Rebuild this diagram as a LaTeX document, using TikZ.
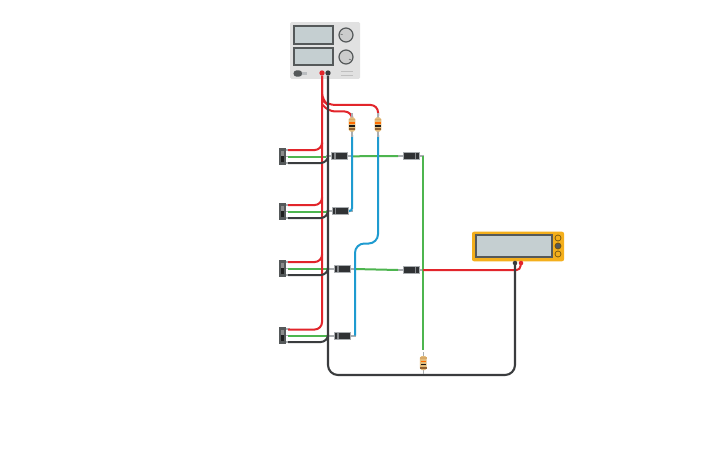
\documentclass[tikz,border=0pt]{standalone}
\definecolor{wred}{HTML}{E2252B}
\definecolor{wgreen}{HTML}{4DB54F}
\definecolor{wblue}{HTML}{1E9BD0}
\definecolor{wblack}{HTML}{3A3C3E}
\definecolor{lead}{HTML}{A9ADB0}
\definecolor{psu}{HTML}{E1E1E1}
\definecolor{lcd}{HTML}{C5CFD1}
\definecolor{lcdedge}{HTML}{55595A}
\definecolor{orangeb}{HTML}{F4AF1C}
\definecolor{tan}{HTML}{E3BC7A}
\definecolor{diode}{HTML}{303234}
\tikzset{
  wire/.style={line width=1.5pt,rounded corners=5.5pt},
  red wire/.style={wire,wred},
  green wire/.style={wire,wgreen},
  blue wire/.style={wire,wblue},
  black wire/.style={wire,wblack},
  leadw/.style={lead,line width=1pt},
  dbody/.style={draw=lead,line width=.6pt,fill=diode,minimum width=12pt,minimum height=5.4pt,inner sep=0pt,outer sep=0pt},
  swbody/.style={fill=lcdedge,minimum width=5pt,minimum height=13pt,inner sep=0pt},
  rbody/.style={fill=tan,rounded corners=1.2pt,minimum width=5pt,minimum height=10.5pt,inner sep=0pt},
  lcdscreen/.style={draw=lcdedge,line width=1.3pt,fill=lcd,inner sep=0pt},
  knob/.style={circle,draw=lcdedge,line width=.9pt,fill=black!20,inner sep=0pt,minimum size=10.5pt},
  mbtn/.style={circle,draw=black!55!orangeb,line width=.5pt,fill=orangeb,inner sep=0pt,minimum size=4.5pt},
  terminal/.style={circle,inner sep=0pt,minimum size=4pt},
}
\newcommand{\mysw}[2]{% name, center y
  \draw[lead,line width=.9pt] (286,#2-6.5) -- (290,#2-6.5) (286,#2) -- (290,#2) (286,#2+6.5) -- (290,#2+6.5);
  \node[swbody] (#1) at (282.7,#2) {};
  \fill[black!45] (281,#2-5.5) rectangle (284.4,#2-1);
  \fill[black!88] (281,#2-1) rectangle (284.4,#2+5.2);
}
\newcommand{\mydiode}[4]{% name, x, y, band offset
  \node[dbody] (#1) at (#2,#3) {};
  \fill[lead!70!diode] (#2+#4-.7,#3-2.6) rectangle (#2+#4+.7,#3+2.6);
}
\newcommand{\myres}[2]{% name, center(x,y)
  \begin{scope}[shift={(#2)}]
    \draw[lead,line width=1pt] (0,-11) -- (0,11);
    \node[rbody] (#1) at (0,0) {};
    \fill[orange!85!red] (-2.6,-2.4) rectangle (2.6,-.6);
    \fill[black!90] (-2.6,.6) rectangle (2.6,2.2);
    \fill[brown!75!black] (-3.4,3.8) rectangle (3.4,5.6);
    \fill[tan!70!brown] (-3.2,-5.8) rectangle (3.2,-4.2);
  \end{scope}
}
\begin{document}
\begin{tikzpicture}[x=.75pt,y=-.75pt]
\useasboundingbox (0,0) rectangle (725,453);
\fill[white] (0,0) rectangle (725,453);

% power supply
\node[fill=psu,rounded corners=1pt,minimum width=52.5pt,minimum height=42.5pt,inner sep=0pt] (psu) at (325,50.5) {};
\node[lcdscreen,minimum width=29.5pt,minimum height=13pt] (d1) at (313.5,35) {};
\node[lcdscreen,minimum width=29.5pt,minimum height=13pt] (d2) at (313.5,56.5) {};
\node[knob] (k1) at (346,35) {};
\node[knob] (k2) at (346,57) {};
\draw[lcdedge,line width=.4pt] (340.5,34) -- (342.5,34.6) (349,59) -- (351,60);
\node[fill=lcdedge,rounded corners=2.4pt,minimum width=6.5pt,minimum height=4.8pt,inner sep=0pt] (pw) at (297.8,73.5) {};
\fill[lead!80!white] (302,72.3) rectangle (307,74.7);
\draw[psu!85!black,line width=.4pt] (341,71) -- (353,71) (341,75) -- (353,75);
\node[terminal,fill=wred] (plus) at (322,73) {};
\node[terminal,fill=wblack] (minus) at (328,73) {};

% terminal coordinates
\coordinate (mB) at (515,263);
\coordinate (mR) at (521,263);

% components
\mysw{s1}{156.5}
\mysw{s2}{211.5}
\mysw{s3}{268.5}
\mysw{s4}{335.5}

% leads of diodes
\draw[leadw] (326,156) -- (353,156) (398,156) -- (423.5,156);
\draw[leadw] (326,211) -- (352.5,211);
\draw[leadw] (329,269) -- (356,269) (398,270) -- (424,270);
\draw[leadw] (329,336) -- (355.5,336);

% green wires
\draw[green wire] (288,157) -- (326,157);
\draw[green wire] (288,211.5) -- (328,211.5);
\draw[green wire] (288,268.5) -- (328,268.5);
\draw[green wire] (288,336) -- (328,336);
\draw[green wire] (352,156.3) -- (398,156);
\draw[green wire] (354,269) -- (398,270);
\draw[green wire] (423.3,156) -- (423.3,350);

% blue wires
\draw[blue wire,rounded corners=2pt] (352,135) -- (352,211) -- (350,211);
\draw[blue wire,rounded corners=7pt] (378,135) -- (378,243.5) -- (355,243.5) -- (355,335.5);
\draw[leadw] (352,133) -- (352,137) (378,133) -- (378,137);

% red wires
\draw[red wire] (plus) -- (322,100) -- (328,105) -- (378,105) -- (378,116);
\draw[red wire] (322,104) -- (328,111.5) -- (352,111.5) -- (352,116);
\draw[red wire] (plus) -- (322,329.5) -- (288,329.5);
\draw[red wire] (322,144) -- (322,150) -- (288,150);
\draw[red wire] (322,198) -- (322,205) -- (288,205);
\draw[red wire] (322,255) -- (322,262) -- (288,262);
\draw[red wire,rounded corners=3pt] (423,270) -- (520.5,270) -- (520.5,263);

% black wires
\draw[black wire,line width=1.6pt,rounded corners=7.5pt] (minus) -- (328,375) -- (515,375) -- (515,263);
\draw[black wire] (288,163) -- (328,163) -- (328,156);
\draw[black wire] (288,218) -- (328,218) -- (328,211);
\draw[black wire] (288,275) -- (328,275) -- (328,268);
\draw[black wire] (288,342) -- (328,342) -- (328,335);

% diodes
\mydiode{D1}{339.5}{156}{-4.5}
\mydiode{D2}{340}{211}{-4.5}
\mydiode{D3}{342.5}{269}{-4.5}
\mydiode{D4}{342.5}{336}{-4.5}
\mydiode{D5}{411}{156}{4.5}
\mydiode{D6}{411}{270}{4.5}

% resistors
\myres{R1}{352,124.5}
\myres{R2}{378,124.5}
\myres{R3}{423.3,363}

% multimeter
\node[fill=orangeb,rounded corners=1.5pt,minimum width=69pt,minimum height=22.2pt,inner sep=0pt] (mm) at (518,246.5) {};
\node[lcdscreen,minimum width=56.5pt,minimum height=16.5pt] (mlcd) at (514,246.2) {};
\node[mbtn] (b1) at (558,238) {};
\node[mbtn,fill=lcdedge] (b2) at (558,246) {};
\node[mbtn] (b3) at (558,254) {};
\node[terminal,fill=wblack,minimum size=3.4pt] (mmB) at (mB) {};
\node[terminal,fill=wred,minimum size=3.4pt] (mmR) at (mR) {};
\end{tikzpicture}
\end{document}
